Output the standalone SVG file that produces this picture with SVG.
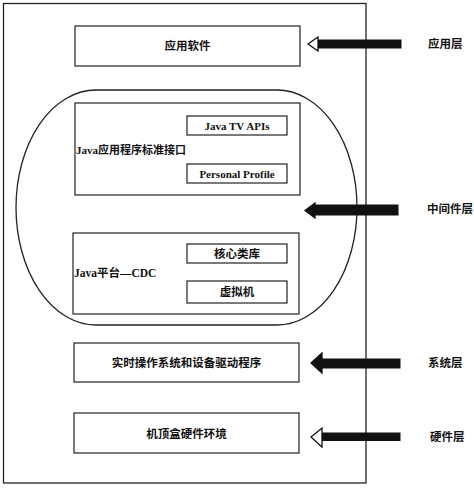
<svg xmlns="http://www.w3.org/2000/svg" width="474" height="488" viewBox="0 0 474 488">
<style>
.box{fill:#fff;stroke:#222;stroke-width:1.2}
.frame{fill:none;stroke:#222;stroke-width:1.3}
.t{font-family:"Liberation Serif","Noto Sans CJK SC",serif;font-weight:bold;font-size:11.5px;fill:#111}
.c{text-anchor:middle}
.shaft{fill:#111;stroke:#111;stroke-width:1}
.headw{fill:#fff;stroke:#111;stroke-width:1.3;stroke-linejoin:miter}
.headb{fill:#111;stroke:#111;stroke-width:1.3}
</style>
<rect width="474" height="488" fill="#fff"/>
<g id="frame"><rect class="frame" x="3.5" y="3.5" width="362.5" height="479.5"/></g>
<g id="app-software"><rect class="box" x="75" y="26" width="225" height="40"/><text class="t c" x="187.5" y="50">应用软件</text></g>
<g id="middleware">
<path class="frame" d="M96,90 H277 A80,117.5 0 0 1 357,207.5 A80,117.5 0 0 1 277,325 H96 A80,117.5 0 0 1 16,207.5 A80,117.5 0 0 1 96,90 Z"/>
</g>
<g id="java-api"><rect class="box" x="75" y="103" width="225" height="92"/><text class="t" x="76" y="154" style="font-size:11px">Java应用程序标准接口</text></g>
<g id="java-tv"><rect class="box" x="187" y="116" width="100" height="19"/><text class="t c" x="237" y="129.5" style="font-size:11px">Java TV APIs</text></g>
<g id="personal-profile"><rect class="box" x="187" y="164" width="100" height="19"/><text class="t c" x="237" y="177.5" style="font-size:11px">Personal Profile</text></g>
<g id="java-cdc"><rect class="box" x="73" y="233" width="226" height="81"/><text class="t" x="74" y="277">Java平台—CDC</text></g>
<g id="core-lib"><rect class="box" x="187" y="244" width="100" height="19"/><text class="t c" x="237" y="257.5">核心类库</text></g>
<g id="vm"><rect class="box" x="187" y="281" width="100" height="22"/><text class="t c" x="237" y="296">虚拟机</text></g>
<g id="rtos"><rect class="box" x="74" y="343" width="225" height="39"/><text class="t c" x="186.5" y="367">实时操作系统和设备驱动程序</text></g>
<g id="hardware"><rect class="box" x="74" y="413" width="225" height="40"/><text class="t c" x="186.5" y="438">机顶盒硬件环境</text></g>
<g id="connectors">
<rect class="shaft" x="317" y="40" width="84" height="8"/>
<polygon class="headw" points="308,44 318,37 318,51"/>
<rect class="shaft" x="314" y="205" width="84" height="10"/>
<polygon class="headb" points="305,210.5 315,203 315,218"/>
<rect class="shaft" x="321" y="359" width="79" height="9"/>
<polygon class="headb" points="311,363 322,353 322,373"/>
<rect class="shaft" x="321" y="433" width="79" height="7.5"/>
<polygon class="headw" points="311,437 322,428 322,447"/>
</g>
<g id="labels">
<text class="t" x="428" y="48">应用层</text>
<text class="t" x="427" y="213">中间件层</text>
<text class="t" x="428" y="367">系统层</text>
<text class="t" x="430" y="441">硬件层</text>
</g>
</svg>
